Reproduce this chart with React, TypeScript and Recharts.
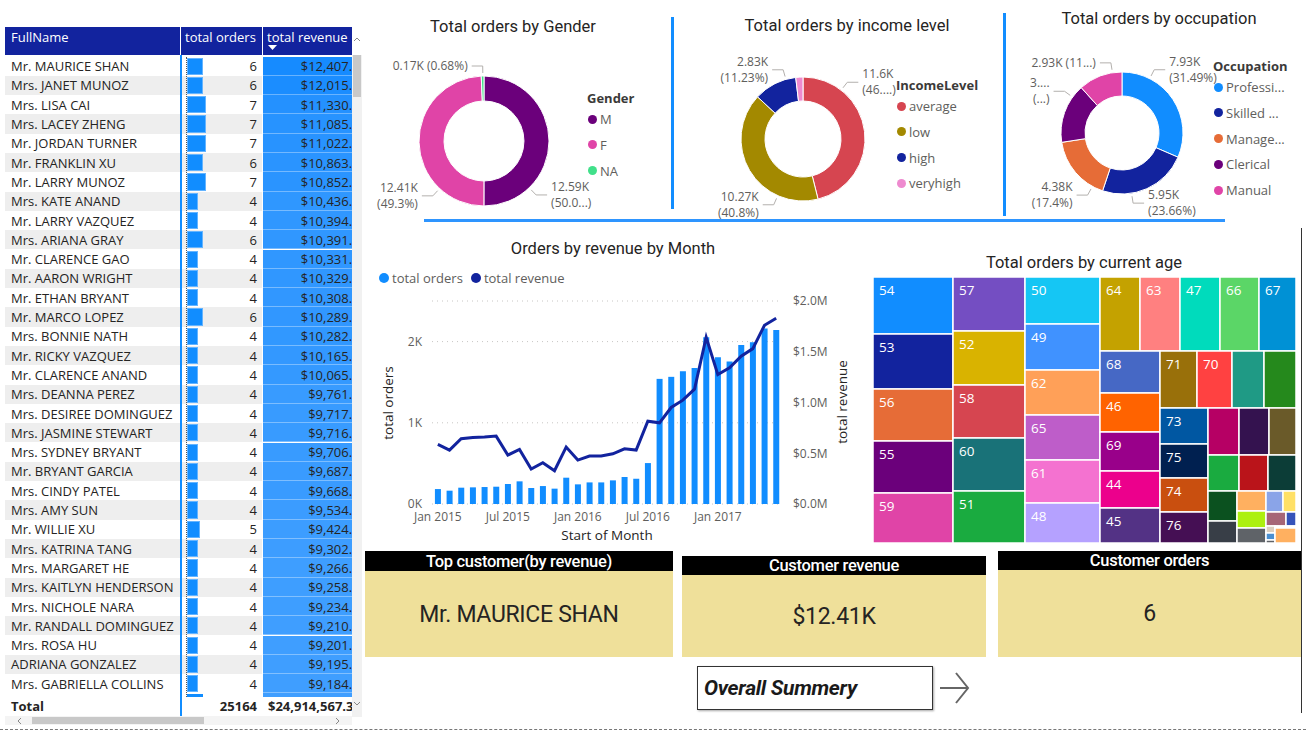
import React from 'react';
import { PieChart, Pie, Cell, ComposedChart, Bar, Line, XAxis, YAxis, CartesianGrid, Treemap } from 'recharts';

// ---- customer table ----
const customerNames = [
  'Mr. MAURICE SHAN', 'Mrs. JANET MUNOZ', 'Mrs. LISA CAI', 'Mrs. LACEY ZHENG', 'Mr. JORDAN TURNER',
  'Mr. FRANKLIN XU', 'Mr. LARRY MUNOZ', 'Mrs. KATE ANAND', 'Mr. LARRY VAZQUEZ', 'Mrs. ARIANA GRAY',
  'Mr. CLARENCE GAO', 'Mr. AARON WRIGHT', 'Mr. ETHAN BRYANT', 'Mr. MARCO LOPEZ', 'Mrs. BONNIE NATH',
  'Mr. RICKY VAZQUEZ', 'Mr. CLARENCE ANAND', 'Mrs. DEANNA PEREZ', 'Mrs. DESIREE DOMINGUEZ', 'Mrs. JASMINE STEWART',
  'Mrs. SYDNEY BRYANT', 'Mr. BRYANT GARCIA', 'Mrs. CINDY PATEL', 'Mrs. AMY SUN', 'Mr. WILLIE XU',
  'Mrs. KATRINA TANG', 'Mrs. MARGARET HE', 'Mrs. KAITLYN HENDERSON', 'Mrs. NICHOLE NARA', 'Mr. RANDALL DOMINGUEZ',
  'Mrs. ROSA HU', 'ADRIANA GONZALEZ', 'Mrs. GABRIELLA COLLINS',
];
const customerOrders = [6, 6, 7, 7, 7, 6, 7, 4, 4, 6, 4, 4, 4, 6, 4, 4, 4, 4, 4, 4, 4, 4, 4, 4, 5, 4, 4, 4, 4, 4, 4, 4, 4];
const customerRevenue = [
  12407.23, 12015.21, 11330.45, 11085.73, 11022.21, 10863.42, 10852.06, 10436.21, 10394.51, 10391.42,
  10331.71, 10329.21, 10308.21, 10289.06, 10282.51, 10165.51, 10065.06, 9761.21, 9717.06, 9716.51,
  9706.21, 9687.21, 9668.06, 9534.21, 9424.51, 9302.21, 9266.71, 9258.51, 9234.06, 9210.21,
  9201.21, 9195.06, 9184.06,
];
const totalOrders = 25164;
const totalRevenue = 24914567.31;

// ---- donuts ----
const genderNames = ['M', 'F', 'NA'];
const genderOrders = [12588, 12406, 170];
const incomeNames = ['average', 'low', 'high', 'veryhigh'];
const incomeOrders = [11600, 10267, 2826, 471];
const occupationNames = ['Professional', 'Skilled Manual', 'Management', 'Clerical', 'Manual'];
const occupationOrders = [7925, 5954, 4379, 3976, 2930];

// ---- monthly ----
const months = [
  '2015-01', '2015-02', '2015-03', '2015-04', '2015-05', '2015-06', '2015-07', '2015-08', '2015-09', '2015-10',
  '2015-11', '2015-12', '2016-01', '2016-02', '2016-03', '2016-04', '2016-05', '2016-06', '2016-07', '2016-08',
  '2016-09', '2016-10', '2016-11', '2016-12', '2017-01', '2017-02', '2017-03', '2017-04', '2017-05', '2017-06',
];
const monthlyOrders = [
  184, 164, 201, 205, 209, 213, 246, 279, 197, 221, 189, 324, 242, 266, 266,
  291, 332, 311, 504, 1541, 1566, 1635, 1676, 2053, 1807, 1754, 1959, 1992, 2160, 2143,
];
const monthlyRevenue = [
  587000, 531000, 643000, 656000, 659000, 669000, 482000, 538000, 344000, 407000, 328000, 561000, 433000, 472000, 472000,
  495000, 544000, 531000, 816000, 800000, 951000, 1023000, 1131000, 1643000, 1275000, 1341000, 1456000, 1531000, 1761000, 1830000,
];
const monthTicks = ['2015-01', '2015-07', '2016-01', '2016-07', '2017-01'];

// ---- treemap ----
const ageNames = [
  '54', '53', '56', '55', '59', '57', '52', '58', '60', '51', '50', '49', '62', '65', '61', '48', '64', '63', '47', '66',
  '67', '68', '46', '69', '44', '45', '71', '70', '72', '43', '73', '75', '74', '76', '77', '78', '42', '79', '41', '80',
  '81', '40', '82', '83', '39', '84', '85', '86', '87', '88', '89', '90', '91', '92', '93',
];
const ageOrders = [
  994, 963, 910, 905, 898, 854, 843, 838, 827, 822, 766, 749, 735, 730, 699, 688, 650, 648, 646, 632,
  605, 544, 514, 509, 478, 465, 454, 437, 402, 400, 375, 361, 354, 336, 314, 310, 269, 246, 225, 214,
  189, 139, 124, 110, 100, 79, 61, 61, 31, 14, 13, 8, 6, 5, 4,
];
const labeledAges = [
  '44', '45', '46', '47', '48', '49', '50', '51', '52', '53', '54', '55', '56', '57', '58', '59', '60', '61', '62',
  '63', '64', '65', '66', '67', '68', '69', '70', '71', '73', '74', '75', '76',
];

// ---- styles ----
const UI = "'Segoe UI', 'Open Sans', sans-serif";
const DIN = "'DIN', Roboto, sans-serif";
const BLUE = '#118DFF';
const NAVY = '#12239E';

const genderColors = ['#6B007B', '#E044A7', '#41E08A'];
const incomeColors = ['#D64550', '#A38900', '#12239E', '#EE8ACF'];
const occupationColors = ['#118DFF', '#12239E', '#E66C37', '#6B007B', '#E044A7'];
const ageColors = [
  '#118DFF', '#12239E', '#E66C37', '#6B007B', '#E044A7', '#744EC2', '#D9B300', '#D64550', '#197278', '#1AAB40',
  '#15C6F4', '#4092FF', '#FFA058', '#BE5DC9', '#F472D0', '#B5A1FF', '#C4A200', '#FF8080', '#00DBBC', '#5BD667',
  '#0091D5', '#4668C5', '#FF6300', '#99008A', '#EC008C', '#533285', '#99700A', '#FF4141', '#1F9A85', '#25891C',
  '#0057A2', '#002050', '#C94F0F', '#450F54', '#B60064', '#34124F', '#6A5A29', '#1AAB40', '#BA141A', '#0C3D37',
  '#0B511F', '#383E47', '#FFB060', '#ADF00F', '#5F6368', '#8AA4E8', '#FFE066', '#A66677', '#3653B9', '#DCD0C0',
  '#4A8FD0', '#5F6368', '#ADF00F', '#C8D4E8', '#FFB060',
];

// label placement (clockwise degrees from 12 o'clock) and truncation, per slice
const genderLabelStyle = [{ angle: 136, lines: 2, pMax: 4 }, { angle: 223, lines: 2 }, { angle: 359, lines: 1 }];
const incomeLabelStyle = [{ angle: 38, lines: 2, pMax: 3 }, { angle: 204, lines: 2 }, { angle: 344, lines: 2 }, null];
const occupationLabelStyle = [
  { angle: 27, lines: 2 }, { angle: 171, lines: 2 }, { angle: 209, lines: 2 },
  { angle: 306, lines: 2, vMax: 2, pMax: 0 }, { angle: 351, lines: 1, pMax: 2 },
];

const fmtK = (v: number) => `${Math.round(v / 10) / 100}K`;
const fmtPct = (p: number) => `${Math.round(p * 10000) / 100}%`;
const cut = (s: string, n?: number) => (n === undefined || s.length <= n ? s : s.slice(0, n) + '...');
const fmtMoney = (v: number) => '$' + v.toLocaleString('en-US', { minimumFractionDigits: 2, maximumFractionDigits: 2 });

let measureCtx: CanvasRenderingContext2D | null = null;
function fitText(s: string, maxW: number, font: string) {
  if (!measureCtx) measureCtx = document.createElement('canvas').getContext('2d');
  if (!measureCtx) return s;
  measureCtx.font = font;
  if (measureCtx.measureText(s).width <= maxW) return s;
  let t = s;
  while (t.length > 0 && measureCtx.measureText(t + '...').width > maxW) t = t.slice(0, -1);
  return t + '...';
}

function donutLabel(values: number[], styles: any[]) {
  const total = values.reduce((a, b) => a + b, 0);
  return (p: any) => {
    const s = styles[p.index];
    if (!s) return null;
    const a = (s.angle * Math.PI) / 180;
    const sin = Math.sin(a);
    const cos = Math.cos(a);
    const r0 = p.outerRadius + 3;
    const r1 = p.outerRadius + 10;
    const x0 = p.cx + r0 * sin, y0 = p.cy - r0 * cos;
    const x1 = p.cx + r1 * sin, y1 = p.cy - r1 * cos;
    const dir = sin >= 0 ? 1 : -1;
    const x2 = x1 + dir * 11;
    const tx = x2 + dir * 4;
    const v = values[p.index];
    const vt = cut(fmtK(v), s.vMax);
    const pt = '(' + cut(fmtPct(v / total), s.pMax) + ')';
    const anchor = dir > 0 ? 'start' : 'end';
    const common = { fill: '#605E5C', fontSize: 12, fontFamily: UI, textAnchor: anchor as any };
    return (
      <g key={`lbl-${p.index}`}>
        <polyline points={`${x0},${y0} ${x1},${y1} ${x2},${y1}`} fill="none" stroke="#B3B0AD" strokeWidth={1} />
        {s.lines === 1 ? (
          <text x={tx} y={y1} dy="0.35em" {...common}>{`${vt} ${pt}`}</text>
        ) : (
          <text {...common}>
            <tspan x={tx} y={y1 - 8} dy="0.35em">{vt}</tspan>
            <tspan x={tx} y={y1 + 8} dy="0.35em">{pt}</tspan>
          </text>
        )}
      </g>
    );
  };
}

const At = ({ x, y, center, style, children }: any) => (
  <div
    style={{
      position: 'absolute', left: x, top: y, whiteSpace: 'nowrap',
      transform: center ? 'translate(-50%, -50%)' : 'translateY(-50%)', ...style,
    }}
  >
    {children}
  </div>
);

function Donut({ left, top, width, height, cx, cy, inner, outer, names, values, colors, labelStyle }: any) {
  const data = names.map((n: string, i: number) => ({ name: n, value: values[i] }));
  return (
    <div style={{ position: 'absolute', left, top }}>
      <PieChart width={width} height={height}>
        <Pie
          data={data} dataKey="value" nameKey="name" cx={cx} cy={cy}
          innerRadius={inner} outerRadius={outer} startAngle={90} endAngle={-270}
          stroke="#fff" strokeWidth={1} isAnimationActive={false}
          label={donutLabel(values, labelStyle)} labelLine={false}
        >
          {data.map((d: any, i: number) => <Cell key={d.name} fill={colors[i]} />)}
        </Pie>
      </PieChart>
    </div>
  );
}

function DonutLegend({ x, y, title, names, colors, maxW }: any) {
  const font = `13px ${UI}`;
  return (
    <>
      <At x={x} y={y} style={{ fontFamily: UI, fontSize: 13, fontWeight: 700, color: '#3B3A39' }}>{title}</At>
      {names.map((n: string, i: number) => (
        <At key={n} x={x + 1} y={y + 21 + i * 25.8} style={{ fontFamily: UI, fontSize: 13, color: '#605E5C', display: 'flex', alignItems: 'center' }}>
          <span style={{ display: 'inline-block', width: 9, height: 9, borderRadius: 5, background: colors[i], marginRight: 3 }} />
          {maxW ? fitText(n, maxW, font) : n}
        </At>
      ))}
    </>
  );
}

function CustomerTable() {
  const rowH = 19.3;
  const top0 = 29.5;
  const minR = Math.min(...customerRevenue);
  const maxR = Math.max(...customerRevenue);
  const revColor = (v: number) => {
    const t = (v - minR) / (maxR - minR);
    const c0 = [63, 158, 255];
    const c1 = [22, 139, 255];
    const c = c0.map((a, k) => Math.round(a + (c1[k] - a) * t));
    return `rgb(${c[0]},${c[1]},${c[2]})`;
  };
  const totalTop = top0 + customerNames.length * rowH + 3.5;
  return (
    <div style={{ position: 'absolute', left: 5, top: 27, width: 357, height: 700, fontFamily: UI, fontSize: 13, color: '#252423' }}>
      <div style={{ position: 'absolute', left: 0, top: 0, width: 347, height: 698, overflow: 'hidden' }}>
        <div style={{ position: 'absolute', left: 0, top: 0, width: 380, height: 28, background: NAVY }} />
        <div style={{ position: 'absolute', left: 175, top: 0, width: 1, height: 28, background: '#fff' }} />
        <div style={{ position: 'absolute', left: 257, top: 0, width: 1, height: 28, background: '#fff' }} />
        <div style={{ position: 'absolute', left: 6, top: 10, color: '#fff', transform: 'translateY(-50%)' }}>FullName</div>
        <div style={{ position: 'absolute', left: 180, top: 10, color: '#fff', transform: 'translateY(-50%)' }}>total orders</div>
        <div style={{ position: 'absolute', left: 262, top: 10, color: '#fff', transform: 'translateY(-50%)' }}>total revenue</div>
        <svg style={{ position: 'absolute', left: 262, top: 17 }} width={12} height={8}>
          <polygon points="1,1 10,1 5.5,6" fill="#fff" />
        </svg>
        {customerNames.map((n, i) => {
          const y = top0 + i * rowH;
          return (
            <React.Fragment key={n}>
              <div style={{ position: 'absolute', left: 0, top: y, width: 257, height: rowH, background: i % 2 ? '#EEEEEE' : '#fff' }} />
              <div style={{ position: 'absolute', left: 258, top: y, width: 120, height: rowH - 1, background: revColor(customerRevenue[i]), borderBottom: '1px solid rgba(255,255,255,0.35)' }} />
              <div style={{ position: 'absolute', left: 182, top: y + 1, width: customerOrders[i] * 2.65, height: rowH - 2, background: BLUE, boxShadow: 'inset 0 0 0 1px rgba(255,255,255,0.35)' }} />
              <div style={{ position: 'absolute', left: 6, top: y + rowH / 2, transform: 'translateY(-50%)' }}>{n}</div>
              <div style={{ position: 'absolute', right: 347 - 252, top: y + rowH / 2, transform: 'translateY(-50%)' }}>{customerOrders[i]}</div>
              <div style={{ position: 'absolute', right: 347 - 362, top: y + rowH / 2, transform: 'translateY(-50%)' }}>{fmtMoney(customerRevenue[i])}</div>
            </React.Fragment>
          );
        })}
        <div style={{ position: 'absolute', left: 258, top: totalTop - 3.5, width: 120, height: 3.5, background: revColor(minR) }} />
        <div style={{ position: 'absolute', left: 182, top: totalTop - 3, width: 16, height: 3, background: BLUE }} />
        <div style={{ position: 'absolute', left: 181, top: top0, width: 0, height: totalTop - top0, borderLeft: '1px dotted #555' }} />
        <div style={{ position: 'absolute', left: 175, top: 28, width: 2, height: totalTop + 19 - 28, background: BLUE }} />
        <div style={{ position: 'absolute', left: 6, top: totalTop + 9.5, transform: 'translateY(-50%)', fontWeight: 700 }}>Total</div>
        <div style={{ position: 'absolute', right: 347 - 252, top: totalTop + 9.5, transform: 'translateY(-50%)', fontWeight: 700 }}>{totalOrders}</div>
        <div style={{ position: 'absolute', left: 263, top: totalTop + 9.5, transform: 'translateY(-50%)', fontWeight: 700 }}>{fmtMoney(totalRevenue)}</div>
        {/* horizontal scrollbar */}
        <div style={{ position: 'absolute', left: 0, top: 689, width: 347, height: 9, background: '#F4F4F4' }} />
        <div style={{ position: 'absolute', left: 27, top: 690, width: 172, height: 7, background: '#C8C8C8' }} />
        <svg style={{ position: 'absolute', left: 0, top: 689 }} width={347} height={10}>
          <polyline points="16,2 13,5 16,8" fill="none" stroke="#888" />
          <polyline points="331,2 334,5 331,8" fill="none" stroke="#888" />
        </svg>
      </div>
      {/* vertical scrollbar */}
      <div style={{ position: 'absolute', left: 347, top: 28, width: 10, height: 662, background: '#F1F1F1' }} />
      <div style={{ position: 'absolute', left: 348, top: 28, width: 8, height: 42, background: '#C8C8C8' }} />
      <svg style={{ position: 'absolute', left: 347, top: 8 }} width={10} height={8}>
        <polyline points="2,6 5,3 8,6" fill="none" stroke="#888" />
      </svg>
      <svg style={{ position: 'absolute', left: 347, top: 673 }} width={10} height={8}>
        <polyline points="2,2 5,5 8,2" fill="none" stroke="#888" />
      </svg>
    </div>
  );
}

function MonthlyChart() {
  const data = months.map((m, i) => ({ month: m, orders: monthlyOrders[i], revenue: monthlyRevenue[i] }));
  const monthName = (m: string) => {
    const [y, mo] = m.split('-');
    return `${mo === '01' ? 'Jan' : 'Jul'} ${y}`;
  };
  const tick = { fill: '#605E5C', fontSize: 12, fontFamily: UI };
  return (
    <div style={{ position: 'absolute', left: 370, top: 285 }}>
      <ComposedChart width={480} height={260} data={data} margin={{ top: 16, right: 20, bottom: 21, left: 22 }} barCategoryGap="25%">
        <CartesianGrid yAxisId="left" vertical={false} stroke="#C8C6C4" strokeDasharray="1 4" />
        <XAxis dataKey="month" ticks={monthTicks} interval={0} tickFormatter={monthName} axisLine={false} tickLine={false} tick={tick} height={20} tickMargin={2} />
        <YAxis yAxisId="left" domain={[0, 2500]} ticks={[0, 1000, 2000]} tickFormatter={(v: number) => `${v / 1000}K`} axisLine={false} tickLine={false} tick={tick} width={40} tickMargin={4} />
        <YAxis yAxisId="right" orientation="right" domain={[0, 2000000]} ticks={[0, 500000, 1000000, 1500000, 2000000]} tickFormatter={(v: number) => `$${(v / 1e6).toFixed(1)}M`} axisLine={false} tickLine={false} tick={tick} width={48} tickMargin={5} />
        <Bar yAxisId="left" dataKey="orders" fill={BLUE} isAnimationActive={false} />
        <Line yAxisId="right" dataKey="revenue" stroke={NAVY} strokeWidth={3} dot={false} activeDot={false} type="linear" isAnimationActive={false} />
      </ComposedChart>
    </div>
  );
}

function AgeTreemap() {
  const data = ageNames.map((n, i) => ({ name: n, value: ageOrders[i] }));
  const cell = (p: any) => {
    if (p.depth !== 1) return null;
    return (
      <g>
        <rect x={p.x} y={p.y} width={p.width} height={p.height} fill={ageColors[p.index % ageColors.length]} stroke="#fff" strokeWidth={1.5} />
        {labeledAges.includes(p.name) && (
          <text x={p.x + 6} y={p.y + 18} fill="#fff" fontSize={13.5} fontFamily={UI}>{p.name}</text>
        )}
      </g>
    );
  };
  return (
    <div style={{ position: 'absolute', left: 873, top: 277 }}>
      <Treemap width={423} height={266} data={data} dataKey="value" nameKey="name" isAnimationActive={false} content={cell as any} />
    </div>
  );
}

function Card({ left, width, headTop, headH, title, value }: any) {
  return (
    <>
      <div style={{ position: 'absolute', left, top: headTop, width, height: headH, background: '#000', color: '#fff', fontFamily: DIN, fontWeight: 500, fontSize: 16.5, display: 'flex', alignItems: 'center', justifyContent: 'center', letterSpacing: -0.3 }}>{title}</div>
      <div style={{ position: 'absolute', left, top: headTop + headH, width, height: 657 - headTop - headH, background: '#EFE09A', color: '#252423', fontFamily: DIN, fontSize: 23, display: 'flex', alignItems: 'center', justifyContent: 'center', letterSpacing: -0.3 }}>{value}</div>
    </>
  );
}

export default function App() {
  const title = { fontFamily: DIN, fontSize: 16.5, color: '#252423' };
  return (
    <div style={{ position: 'absolute', left: 0, top: 0, width: 1306, height: 731, background: '#fff', overflow: 'hidden' }}>
      <CustomerTable />

      {/* donut row */}
      <At x={513} y={26} center style={title}>Total orders by Gender</At>
      <Donut left={365} top={5} width={305} height={225} cx={114} cy={131} inner={40} outer={65}
        names={genderNames} values={genderOrders} colors={genderColors} labelStyle={genderLabelStyle} />
      <DonutLegend x={587} y={98} title="Gender" names={genderNames} colors={genderColors} />

      <At x={847} y={25} center style={title}>Total orders by income level</At>
      <Donut left={675} top={5} width={325} height={225} cx={123} cy={129} inner={38} outer={62}
        names={incomeNames} values={incomeOrders} colors={incomeColors} labelStyle={incomeLabelStyle} />
      <DonutLegend x={896} y={85} title="IncomeLevel" names={incomeNames} colors={incomeColors} />

      <At x={1159} y={18} center style={title}>Total orders by occupation</At>
      <Donut left={1007} top={5} width={295} height={225} cx={110} cy={123} inner={37} outer={61}
        names={occupationNames} values={occupationOrders} colors={occupationColors} labelStyle={occupationLabelStyle} />
      <DonutLegend x={1213} y={66} title="Occupation" names={occupationNames} colors={occupationColors} maxW={63} />

      {/* separators */}
      <div style={{ position: 'absolute', left: 671, top: 17, width: 3, height: 192, background: BLUE }} />
      <div style={{ position: 'absolute', left: 1003, top: 13, width: 3, height: 203, background: BLUE }} />
      <div style={{ position: 'absolute', left: 424, top: 219, width: 801, height: 2.5, background: '#2E95FF' }} />

      {/* monthly combo */}
      <At x={613} y={248} center style={title}>Orders by revenue by Month</At>
      <At x={379} y={278} style={{ fontFamily: UI, fontSize: 13, color: '#605E5C', display: 'flex', alignItems: 'center' }}>
        <span style={{ display: 'inline-block', width: 10, height: 10, borderRadius: 5, background: BLUE, marginRight: 3 }} />
        total orders
        <span style={{ display: 'inline-block', width: 10, height: 10, borderRadius: 5, background: NAVY, margin: '0 3px 0 8px' }} />
        total revenue
      </At>
      <MonthlyChart />
      <At x={388} y={403} center style={{ fontFamily: UI, fontSize: 13.5, color: '#252423', transform: 'translate(-50%, -50%) rotate(-90deg)' }}>total orders</At>
      <At x={842} y={402} center style={{ fontFamily: UI, fontSize: 13.5, color: '#252423', transform: 'translate(-50%, -50%) rotate(-90deg)' }}>total revenue</At>
      <At x={607} y={535} center style={{ fontFamily: UI, fontSize: 13.5, color: '#252423' }}>Start of Month</At>

      {/* treemap */}
      <At x={1084} y={262} center style={title}>Total orders by current age</At>
      <AgeTreemap />

      {/* cards */}
      <Card left={365} width={308} headTop={551} headH={20} title="Top customer(by revenue)" value={customerNames[0]} />
      <Card left={682} width={304} headTop={556} headH={19} title="Customer revenue" value={`$${(customerRevenue[0] / 1000).toFixed(2)}K`} />
      <Card left={998} width={303} headTop={551} headH={19} title="Customer orders" value={customerOrders[0]} />

      {/* navigation button */}
      <div style={{ position: 'absolute', left: 697, top: 666, width: 228, height: 42, border: '1px solid #333', boxShadow: '1px 1px 2px rgba(0,0,0,0.35)', background: '#fff', display: 'flex', alignItems: 'center', paddingLeft: 6, boxSizing: 'content-box', fontFamily: DIN, fontWeight: 700, fontStyle: 'italic', fontSize: 21, color: '#1a1a1a', letterSpacing: -0.3 }}>
        Overall Summery
      </div>
      <svg style={{ position: 'absolute', left: 936, top: 670 }} width={38} height={36}>
        <polyline points="4,18 32,18" stroke="#666" strokeWidth={2} fill="none" />
        <polyline points="20,3 32,18 20,33" stroke="#666" strokeWidth={2} fill="none" />
      </svg>

      {/* page frame */}
      <div style={{ position: 'absolute', left: 1301, top: 228, width: 1, height: 485, background: '#333' }} />
      <div style={{ position: 'absolute', left: 0, top: 729, width: 1306, height: 0, borderTop: '1px dashed #777' }} />
    </div>
  );
}
